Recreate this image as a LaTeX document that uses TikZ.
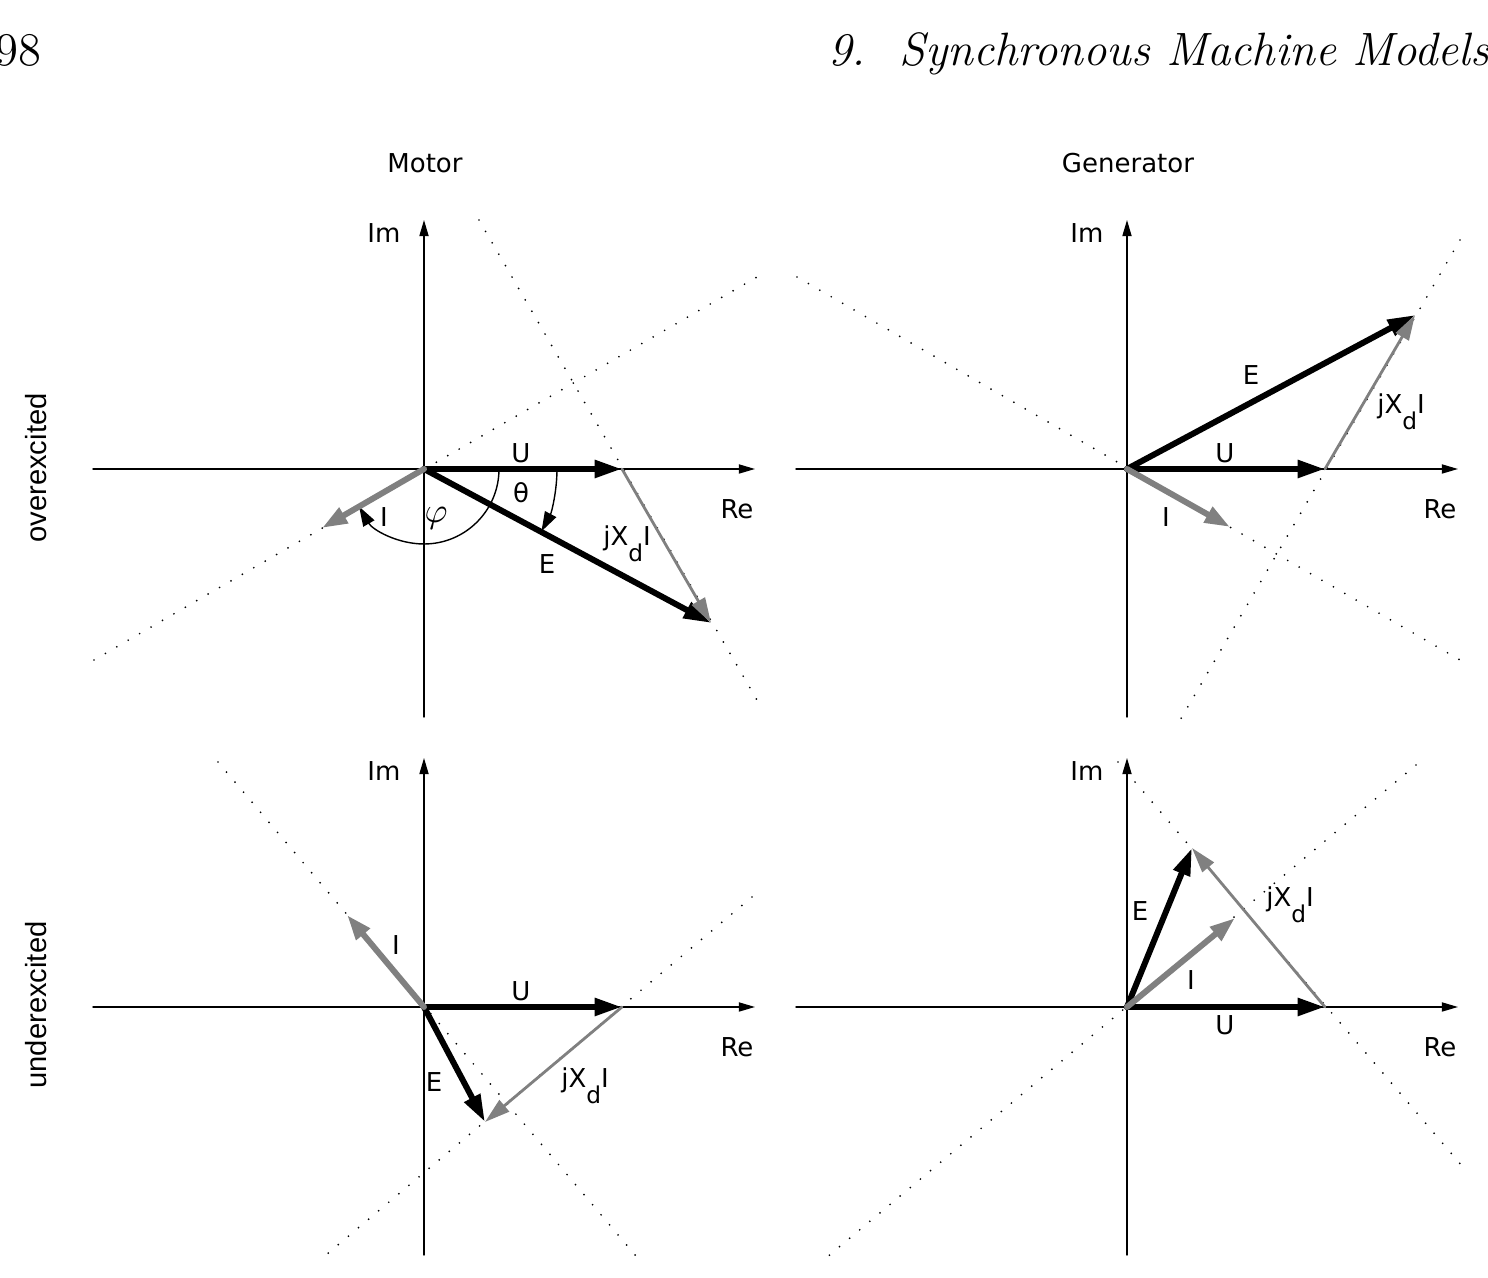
\documentclass[tikz,border=0pt]{standalone}
\usepackage{fontspec}
\usepackage{amsmath}
\setsansfont{DejaVu Sans}
\newfontfamily\sidefont{Liberation Sans}
\usetikzlibrary{arrows.meta}
\newcommand{\jxdi}{jX\raisebox{-1.1ex}{\fontsize{6.6}{6.6}\selectfont d}I}
\tikzset{
  axisline/.style={line width=0.4pt,-{Triangle[length=4.6pt,width=2.6pt]}},
  guide/.style={line width=0.55pt,dash pattern=on 0pt off 3.75pt,line cap=round},
  blackvec/.style={line width=1.7pt,-{Triangle[length=7.8pt,width=4.8pt]}},
  grayvec/.style={color=gray,line width=1.7pt,-{Triangle[length=7.2pt,width=4.8pt]}},
  graythin/.style={color=gray,line width=0.8pt,-{Triangle[length=7.2pt,width=4.2pt]}},
  anglearc/.style={line width=0.4pt,-{Triangle[length=5.6pt,width=3.6pt]}},
  lab/.style={font=\sffamily\fontsize{7.4}{9}\selectfont,inner sep=0pt},
  sidelab/.style={font=\sidefont\fontsize{8.3}{10}\selectfont,inner sep=0pt,rotate=90},
  headlab/.style={font=\fontsize{13.3}{16}\selectfont,inner sep=0pt}
}
\begin{document}
\begin{tikzpicture}[line cap=round,line join=round,x=1.0cm,y=1.0cm]
    \useasboundingbox (0,0) rectangle (14.88,12.78);
    \clip (0,0) rectangle (14.88,12.78);
    \node [headlab,anchor=base east] (pagenum) at (0.42,12.12) {98};
    \node [headlab,anchor=base east] (chapter) at (14.90,12.12) {\itshape 9.\hspace{9.6pt}Synchronous Machine Models};
    \node [lab] (motor) at (4.25,11.15) {Motor};
    \node [lab] (generator) at (11.28,11.15) {Generator};
    \node [sidelab] (over) at (0.36,8.10) {overexcited};
    \node [sidelab] (under) at (0.36,2.73) {underexcited};
    \foreach \px/\py/\pn in {4.24/8.09/a,11.27/8.09/b,4.24/2.71/c,11.27/2.71/d}
    {
    \begin{scope}[shift={(\px,\py)}]
    \coordinate (o\pn) at (0,0);
    \coordinate (l\pn) at (-3.31,0);
    \coordinate (r\pn) at (3.31,0);
    \coordinate (b\pn) at (0,-2.48);
    \coordinate (t\pn) at (0,2.49);
    \coordinate (u\pn) at (1.98,0);
    \draw[axisline] (l\pn) -- (r\pn);
    \draw[axisline] (b\pn) -- (t\pn);
    \node [lab] (im\pn) at (-0.40,2.36) {Im};
    \node [lab] (re\pn) at (3.13,-0.40) {Re};
    \end{scope}
    }
    % motor, overexcited
    \begin{scope}[shift={(4.24,8.09)}]
    \coordinate (ea) at (2.87,-1.54);
    \coordinate (ia) at (-1.02,-0.59);
    \coordinate (g1a) at (-3.30,-1.91);
    \coordinate (g2a) at (3.33,1.92);
    \coordinate (g3a) at (0.55,2.49);
    \coordinate (g4a) at (3.33,-2.31);
    \coordinate (tha) at (1.33,0);
    \coordinate (pha) at (0.75,0);
    \draw[guide] (g1a) -- (g2a);
    \draw[guide] (g3a) -- (g4a);
    \draw[anglearc] (tha) arc (0:-28:1.33);
    \draw[anglearc] (pha) arc (0:-150:0.75);
    \draw[blackvec] (oa) -- (ea);
    \draw[blackvec] (oa) -- (ua);
    \draw[graythin] (ua) -- (ea);
    \draw[grayvec] (oa) -- (ia);
    \node [lab] (labua) at (0.97,0.16) {U};
    \node [lab] (labta) at (0.97,-0.24) {θ};
    \node [lab,font=\fontsize{10}{11}\selectfont] (labpa) at (0.12,-0.49) {$\varphi$};
    \node [lab] (labia) at (-0.40,-0.48) {I};
    \node [lab] (labja) at (2.03,-0.75) {\jxdi};
    \node [lab] (labea) at (1.23,-0.95) {E};
    \end{scope}
    % generator, overexcited
    \begin{scope}[shift={(11.27,8.09)}]
    \coordinate (eb) at (2.88,1.54);
    \coordinate (ib) at (1.03,-0.58);
    \coordinate (g1b) at (-3.30,1.92);
    \coordinate (g2b) at (3.33,-1.91);
    \coordinate (g3b) at (3.33,2.29);
    \coordinate (g4b) at (0.49,-2.58);
    \draw[guide] (g1b) -- (g2b);
    \draw[guide] (g3b) -- (g4b);
    \draw[blackvec] (ob) -- (eb);
    \draw[blackvec] (ob) -- (ub);
    \draw[graythin] (ub) -- (eb);
    \draw[grayvec] (ob) -- (ib);
    \node [lab] (labeb) at (1.24,0.94) {E};
    \node [lab] (labub) at (0.98,0.16) {U};
    \node [lab] (labjb) at (2.74,0.57) {\jxdi};
    \node [lab] (labib) at (0.39,-0.48) {I};
    \end{scope}
    % motor, underexcited
    \begin{scope}[shift={(4.24,2.71)}]
    \coordinate (ec) at (0.61,-1.15);
    \coordinate (ic) at (-0.77,0.92);
    \coordinate (g1c) at (-2.06,2.45);
    \coordinate (g2c) at (2.17,-2.55);
    \coordinate (g3c) at (3.28,1.10);
    \coordinate (g4c) at (-0.98,-2.48);
    \draw[guide] (g1c) -- (g2c);
    \draw[guide] (g3c) -- (g4c);
    \draw[blackvec] (oc) -- (ec);
    \draw[blackvec] (oc) -- (uc);
    \draw[graythin] (uc) -- (ec);
    \draw[grayvec] (oc) -- (ic);
    \node [lab] (labic) at (-0.28,0.62) {I};
    \node [lab] (labuc) at (0.97,0.16) {U};
    \node [lab] (labec) at (0.10,-0.75) {E};
    \node [lab] (labjc) at (1.61,-0.79) {\jxdi};
    \end{scope}
    % generator, underexcited
    \begin{scope}[shift={(11.27,2.71)}]
    \coordinate (ed) at (0.65,1.59);
    \coordinate (id) at (1.08,0.89);
    \coordinate (g1d) at (2.89,2.42);
    \coordinate (g2d) at (-3.07,-2.56);
    \coordinate (g3d) at (-0.09,2.45);
    \coordinate (g4d) at (3.41,-1.66);
    \draw[guide] (g1d) -- (g2d);
    \draw[guide] (g3d) -- (g4d);
    \draw[blackvec] (od) -- (ed);
    \draw[blackvec] (od) -- (ud);
    \draw[graythin] (ud) -- (ed);
    \draw[grayvec] (od) -- (id);
    \node [lab] (labed) at (0.13,0.96) {E};
    \node [lab] (labid) at (0.64,0.27) {I};
    \node [lab] (labud) at (0.98,-0.18) {U};
    \node [lab] (labjd) at (1.63,1.02) {\jxdi};
    \end{scope}
\end{tikzpicture}
\end{document}
